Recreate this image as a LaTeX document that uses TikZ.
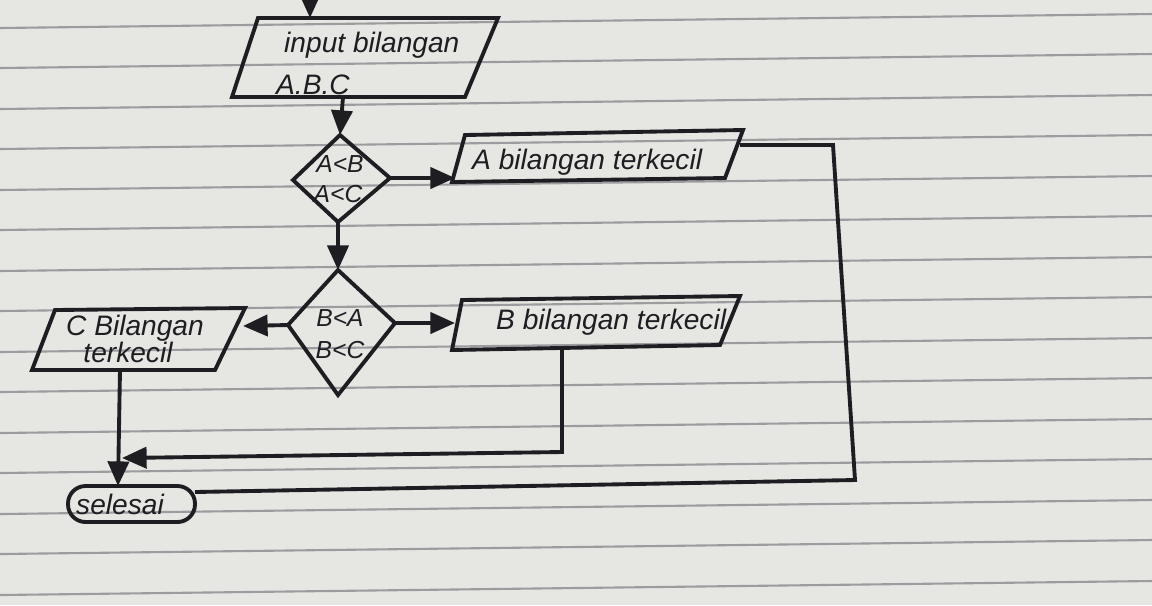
\documentclass[tikz,border=0pt]{standalone}
\usepackage{fontspec}
\setmainfont{Liberation Sans}
\usetikzlibrary{arrows.meta}
\definecolor{paper}{HTML}{E6E6E3}
\definecolor{rule}{HTML}{9A9C9E}
\definecolor{ink}{HTML}{1E1E22}
\begin{document}
\begin{tikzpicture}[x=0.01cm,y=-0.01cm,
  ink/.style={draw=ink,line width=1.1pt},
  arr/.style={ink,-{Triangle[length=7pt,width=6pt]}},
  lbl/.style={text=ink,font=\itshape\footnotesize,inner sep=1pt},
  dlbl/.style={lbl,font=\itshape\scriptsize}]
\fill[paper] (0,0) rectangle (1152,605);
\useasboundingbox (0,0) rectangle (1152,605);
\foreach \y in {22,62,103,143,184,224,265,305,346,386,427,467,508,548,589}
  \draw[rule,line width=0.6pt] (0,\y+6) -- (1152,\y-8);
% shapes
\draw[ink] (258,18) -- (498,18) -- (465,97) -- (232,97) -- cycle;
\node[lbl,anchor=west] (in1) at (280,45) {input bilangan};
\node[lbl,anchor=west] (in2) at (272,85) {A.B.C};
\coordinate (inb) at (343,97);
\coordinate (top) at (310,0);
\coordinate (intop) at (310,18);
\draw[ink] (340,135) -- (390,178) -- (338,222) -- (293,180) -- cycle;
\node[dlbl] (d1a) at (340,164) {A<B};
\node[dlbl] (d1b) at (338,194) {A<C};
\coordinate (d1t) at (340,135); \coordinate (d1r) at (390,178); \coordinate (d1b2) at (338,222);
\draw[ink] (465,135) -- (743,130) -- (725,178) -- (452,182) -- cycle;
\node[lbl,anchor=west] (pa) at (468,162) {A bilangan terkecil};
\coordinate (pal) at (455,178);
\draw[ink] (338,270) -- (395,323) -- (338,395) -- (288,325) -- cycle;
\node[dlbl] (d2a) at (340,318) {B<A};
\node[dlbl] (d2b) at (340,350) {B<C};
\coordinate (d2t) at (338,270); \coordinate (d2r) at (395,323); \coordinate (d2l) at (288,325);
\draw[ink] (462,300) -- (740,296) -- (720,345) -- (452,350) -- cycle;
\node[lbl,anchor=west] (pb) at (492,322) {B bilangan terkecil};
\coordinate (pbl) at (455,323);
\draw[ink] (55,310) -- (245,308) -- (215,370) -- (32,370) -- cycle;
\node[lbl] (pc1) at (135,328) {C Bilangan};
\node[lbl] (pc2) at (128,352) {terkecil};
\coordinate (pcr) at (243,326);
\draw[ink,rounded corners=5pt] (68,486) -- (195,486) -- (195,522) -- (68,522) -- cycle;
\node[lbl] (end) at (120,504) {selesai};
% connectors
\draw[arr] (top) -- (intop);
\draw[arr] (inb) -- (d1t);
\draw[arr] (d1r) -- (pal);
\draw[arr] (d1b2) -- (d2t);
\draw[arr] (d2r) -- (pbl);
\draw[arr] (d2l) -- (pcr);
\draw[ink] (740,145) -- (833,145) -- (855,480) -- (195,492);
\draw[arr] (562,347) -- (562,452) -- (122,458);
\draw[arr] (120,370) -- (118,486);
\end{tikzpicture}
\end{document}
